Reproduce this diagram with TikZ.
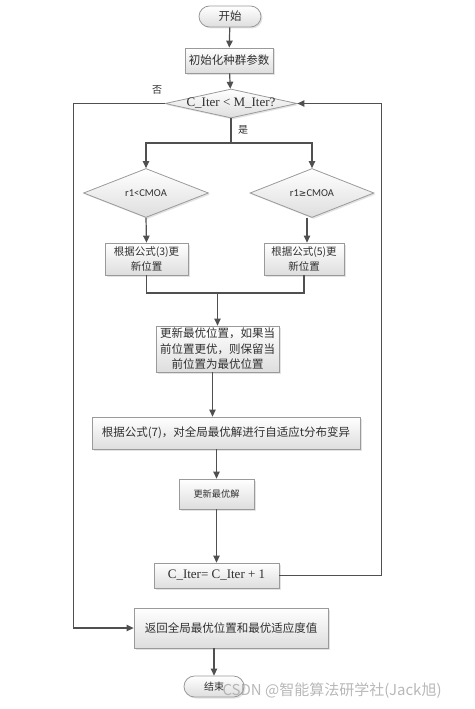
\documentclass[tikz,border=0pt]{standalone}
\usepackage{fontspec}
\setmainfont{Liberation Serif}
\newfontfamily\cjk{Noto Sans CJK SC}
\newfontfamily\calfont{Carlito}
\newfontfamily\dvs{DejaVu Sans}
\usetikzlibrary{arrows.meta,shapes.geometric,shapes.misc,shadows}
\definecolor{ln}{HTML}{505050}
\definecolor{bd}{HTML}{9A9A9A}
\definecolor{tx}{HTML}{303030}
\begin{document}
\begin{tikzpicture}[x=1pt,y=-1pt,
  base/.style={draw=bd, line width=0.8pt, top color=white, bottom color=black!13,
    drop shadow={opacity=0.22, shadow xshift=1.5pt, shadow yshift=-1.5pt},
    text=tx, inner sep=1pt, align=center,
    font=\cjk\fontsize{11.5}{15.5}\selectfont},
  procbox/.style={base, rectangle},
  termbox/.style={base, rounded rectangle},
  decbox/.style={base, diamond, inner sep=0pt},
  dtext/.style={text=tx, inner sep=0pt},
  arr/.style={draw=ln, line width=1.2pt, -{Triangle[length=7pt,width=6.5pt]}},
  conn/.style={draw=ln, line width=1.2pt},
  lbl/.style={text=tx, font=\cjk\fontsize{10}{12}\selectfont}
]
\useasboundingbox (0,0) rectangle (474,709);

\node[termbox, minimum width=64pt, minimum height=21pt] (start) at (230,16.5) {开始};
\node[procbox, minimum width=88pt, minimum height=25pt] (init) at (229,60.5) {初始化种群参数};
\node[decbox, minimum width=132pt, minimum height=29pt] (dec) at (231,103.5) {};
\node[dtext, font=\fontsize{13}{15}\selectfont] (dect) at (dec.center) {C\_Iter < M\_Iter?};
\node[decbox, minimum width=125pt, minimum height=49pt] (dl) at (146,193) {};
\node[dtext, font=\calfont\fontsize{10.5}{12}\selectfont] (dlt) at (dl.center) {r1<CMOA};
\node[decbox, minimum width=124pt, minimum height=49pt] (dr) at (312,193) {};
\node[dtext, font=\calfont\fontsize{10.5}{12}\selectfont] (drt) at (dr.center) {r1{\dvs\fontsize{9}{12}\selectfont ≥}CMOA};
\node[procbox, minimum width=83pt, minimum height=32pt, font=\cjk\fontsize{10.5}{14.5}\selectfont] (bl) at (146.5,259) {根据公式(3)更\\新位置};
\node[procbox, minimum width=80pt, minimum height=32pt, font=\cjk\fontsize{10.5}{14.5}\selectfont] (br) at (304,259) {根据公式(5)更\\新位置};
\node[procbox, minimum width=123pt, minimum height=46pt] (upd) at (217.5,349) {更新最优位置，如果当\\前位置更优，则保留当\\前位置为最优位置};
\node[procbox, minimum width=268pt, minimum height=32pt] (mut) at (226,433) {根据公式(7)，对全局最优解进行自适应t分布变异};
\node[procbox, minimum width=75pt, minimum height=30pt, font=\cjk\fontsize{9.2}{11}\selectfont] (best) at (216.5,494) {更新最优解};
\node[procbox, minimum width=125pt, minimum height=25pt, font=\fontsize{13}{15}\selectfont] (citer) at (216.5,575.5) {C\_Iter= C\_Iter + 1};
\node[procbox, minimum width=194pt, minimum height=40pt] (ret) at (231,628) {返回全局最优位置和最优适应度值};
\node[termbox, minimum width=62pt, minimum height=21pt, font=\cjk\fontsize{10}{12}\selectfont] (end) at (214,686.5) {结束};

\coordinate (split) at (231,143);
\coordinate (merge) at (217.5,293);

\draw[arr] (start) -- (init);
\draw[arr] (init) -- (dec);
\draw[conn] (dec.south) -- (split);
\draw[arr] (split) -| (dl.north);
\draw[arr] (split) -| (dr.north);
\draw[arr] (dl.south) -- (bl.north);
\draw[arr] ([xshift=-5pt]dr.south) -- ([xshift=3pt]br.north);
\draw[conn] (bl.south) |- (merge) -| (br.south);
\draw[arr] (merge) -- (upd.north);
\draw[arr] ([xshift=-5pt]upd.south) -- ([xshift=-5pt]upd.south |- mut.north);
\draw[arr] (mut.south -| best.north) -- (best.north);
\draw[arr] (best.south) -- (citer.north);
\draw[arr] (citer.east) -- ++(102,0) |- (dec.east);
\draw[arr] (dec.west) -- ++(-91,0) |- (ret.west);
\draw[arr] (ret.south -| end.north) -- (end.north);

\node[lbl] (no) at (157,90) {否};
\node[lbl] (yes) at (243,129.5) {是};

\node[text=black!35, opacity=0.8, font=\cjk\fontsize{15}{17}\selectfont, anchor=west] (wm) at (219,691) {CSDN @智能算法研学社(Jack旭)};
\end{tikzpicture}
\end{document}
